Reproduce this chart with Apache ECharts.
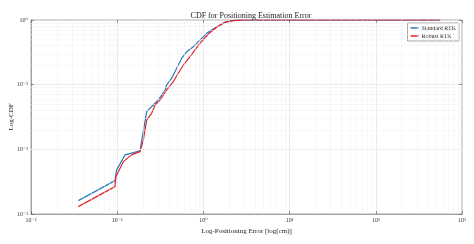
<!DOCTYPE html>
<html>
<head>
<meta charset="utf-8">
<script src="https://cdn.jsdelivr.net/npm/echarts@6/dist/echarts.min.js"></script>
<style>
html, body { margin: 0; padding: 0; background: #fff; }
#main { width: 474px; height: 244px; }
</style>
</head>
<body>
<div id="main"></div>
<script>
// values (error in cm, cdf)
var stdErr = [0.0354, 0.0942, 0.0986, 0.123, 0.184, 0.193, 0.22, 0.262, 0.30, 0.328, 0.359, 0.375, 0.429, 0.49, 0.56, 0.64, 0.764, 0.873, 1.09, 1.43, 1.78, 2.14, 2.6, 3.5, 550];
var stdCdf = [0.00161, 0.00328, 0.00481, 0.00819, 0.00945, 0.0140, 0.0383, 0.0485, 0.058, 0.069, 0.0828, 0.099, 0.126, 0.179, 0.256, 0.324, 0.386, 0.462, 0.622, 0.787, 0.92, 0.975, 0.995, 1, 1];

var robErr = [0.0354, 0.0942, 0.0966, 0.118, 0.147, 0.184, 0.201, 0.22, 0.251, 0.275, 0.314, 0.375, 0.447, 0.51, 0.585, 0.70, 0.80, 0.91, 1.14, 1.42, 1.78, 2.2, 2.7, 3.6, 560];
var robCdf = [0.0013, 0.00265, 0.00378, 0.00646, 0.0082, 0.0092, 0.0140, 0.0285, 0.0361, 0.0485, 0.058, 0.0828, 0.111, 0.15, 0.20, 0.271, 0.344, 0.436, 0.608, 0.77, 0.92, 0.975, 0.995, 1, 1];

var xDecades = [-2, -1, 0, 1, 2];
var yDecades = [-3, -2, -1];

var sup = {'-': '\u207B', '0': '\u2070', '1': '\u00B9', '2': '\u00B2', '3': '\u00B3'};
function powLabel(v) {
    var e = String(Math.round(Math.log10(v)));
    return '10' + e.split('').map(function (c) { return sup[c]; }).join('');
}

function zip(a, b) {
    return a.map(function (v, i) { return [v, b[i]]; });
}

// minor grid lines at 2..9 x 10^k
var minorX = [], minorY = [];
xDecades.forEach(function (d) {
    for (var k = 2; k <= 9; k++) minorX.push({xAxis: k * Math.pow(10, d)});
});
yDecades.forEach(function (d) {
    for (var k = 2; k <= 9; k++) minorY.push({yAxis: k * Math.pow(10, d)});
});

var serif = '"Liberation Serif", "DejaVu Serif", serif';
var myChart = echarts.init(document.getElementById('main'));

var tickIn = {show: true, inside: true, length: 3, lineStyle: {color: '#555', width: 0.6}};

myChart.setOption({
    animation: false,
    title: {
        text: 'CDF for Positioning Estimation Error',
        left: 246, top: 7, textAlign: 'center',
        textStyle: {fontFamily: serif, fontSize: 8, fontWeight: 'normal', color: '#222'}
    },
    legend: {
        orient: 'vertical',
        right: 15, top: 23,
        itemWidth: 8, itemHeight: 1.5, itemGap: 2,
        padding: [2, 3, 2, 3],
        icon: 'rect',
        borderColor: '#444', borderWidth: 0.5, borderRadius: 0,
        backgroundColor: '#fff',
        textStyle: {fontFamily: serif, fontSize: 6, color: '#222', padding: [0, 0, 0, -2]},
        data: ['Standard RTK', 'Robust RTK']
    },
    grid: {
        left: 31, right: 12, top: 20, bottom: 30,
        outerBoundsMode: 'none', containLabel: false,
        show: true, borderColor: '#777', borderWidth: 0.6
    },
    xAxis: [{
        type: 'log', logBase: 10, min: 0.01, max: 1000,
        name: 'Log-Positioning Error [log(cm)]',
        nameLocation: 'middle', nameGap: 14, nameMoveOverlap: false,
        nameTextStyle: {fontFamily: serif, fontSize: 7, color: '#222'},
        axisLine: {show: true, lineStyle: {color: '#777', width: 0.6}},
        axisTick: tickIn,
        axisLabel: {fontFamily: serif, fontSize: 6, color: '#333', margin: 3, formatter: powLabel},
        splitLine: {show: true, lineStyle: {color: '#dcdcdc', width: 0.6}}
    }, {
        type: 'log', logBase: 10, min: 0.01, max: 1000, position: 'top',
        axisLine: {show: false}, axisTick: tickIn, axisLabel: {show: false}, splitLine: {show: false}
    }],
    yAxis: [{
        type: 'log', logBase: 10, min: 0.001, max: 1,
        name: 'Log-CDF',
        nameLocation: 'middle', nameGap: 16, nameMoveOverlap: false,
        nameTextStyle: {fontFamily: serif, fontSize: 7, color: '#222'},
        axisLine: {show: true, lineStyle: {color: '#777', width: 0.6}},
        axisTick: tickIn,
        axisLabel: {fontFamily: serif, fontSize: 6, color: '#333', margin: 3, formatter: powLabel},
        splitLine: {show: true, lineStyle: {color: '#dcdcdc', width: 0.6}}
    }, {
        type: 'log', logBase: 10, min: 0.001, max: 1, position: 'right',
        axisLine: {show: false}, axisTick: tickIn, axisLabel: {show: false}, splitLine: {show: false}
    }],
    series: [
        {
            type: 'line', name: 'minor', data: [[1, 1]], showSymbol: false, silent: true, z: 1,
            lineStyle: {opacity: 0},
            markLine: {
                silent: true, symbol: 'none', label: {show: false}, animation: false,
                lineStyle: {color: '#efefef', width: 0.5, type: 'solid'},
                data: minorX.concat(minorY)
            }
        },
        {
            type: 'line', name: 'Standard RTK', data: zip(stdErr, stdCdf),
            showSymbol: false, z: 3,
            itemStyle: {color: '#2b7bba'},
            lineStyle: {color: '#2b7bba', width: 1.2}
        },
        {
            type: 'line', name: 'Robust RTK', data: zip(robErr, robCdf),
            showSymbol: false, z: 4,
            itemStyle: {color: '#e3212b'},
            lineStyle: {color: '#e3212b', width: 1.2}
        }
    ]
});
</script>
</body>
</html>
